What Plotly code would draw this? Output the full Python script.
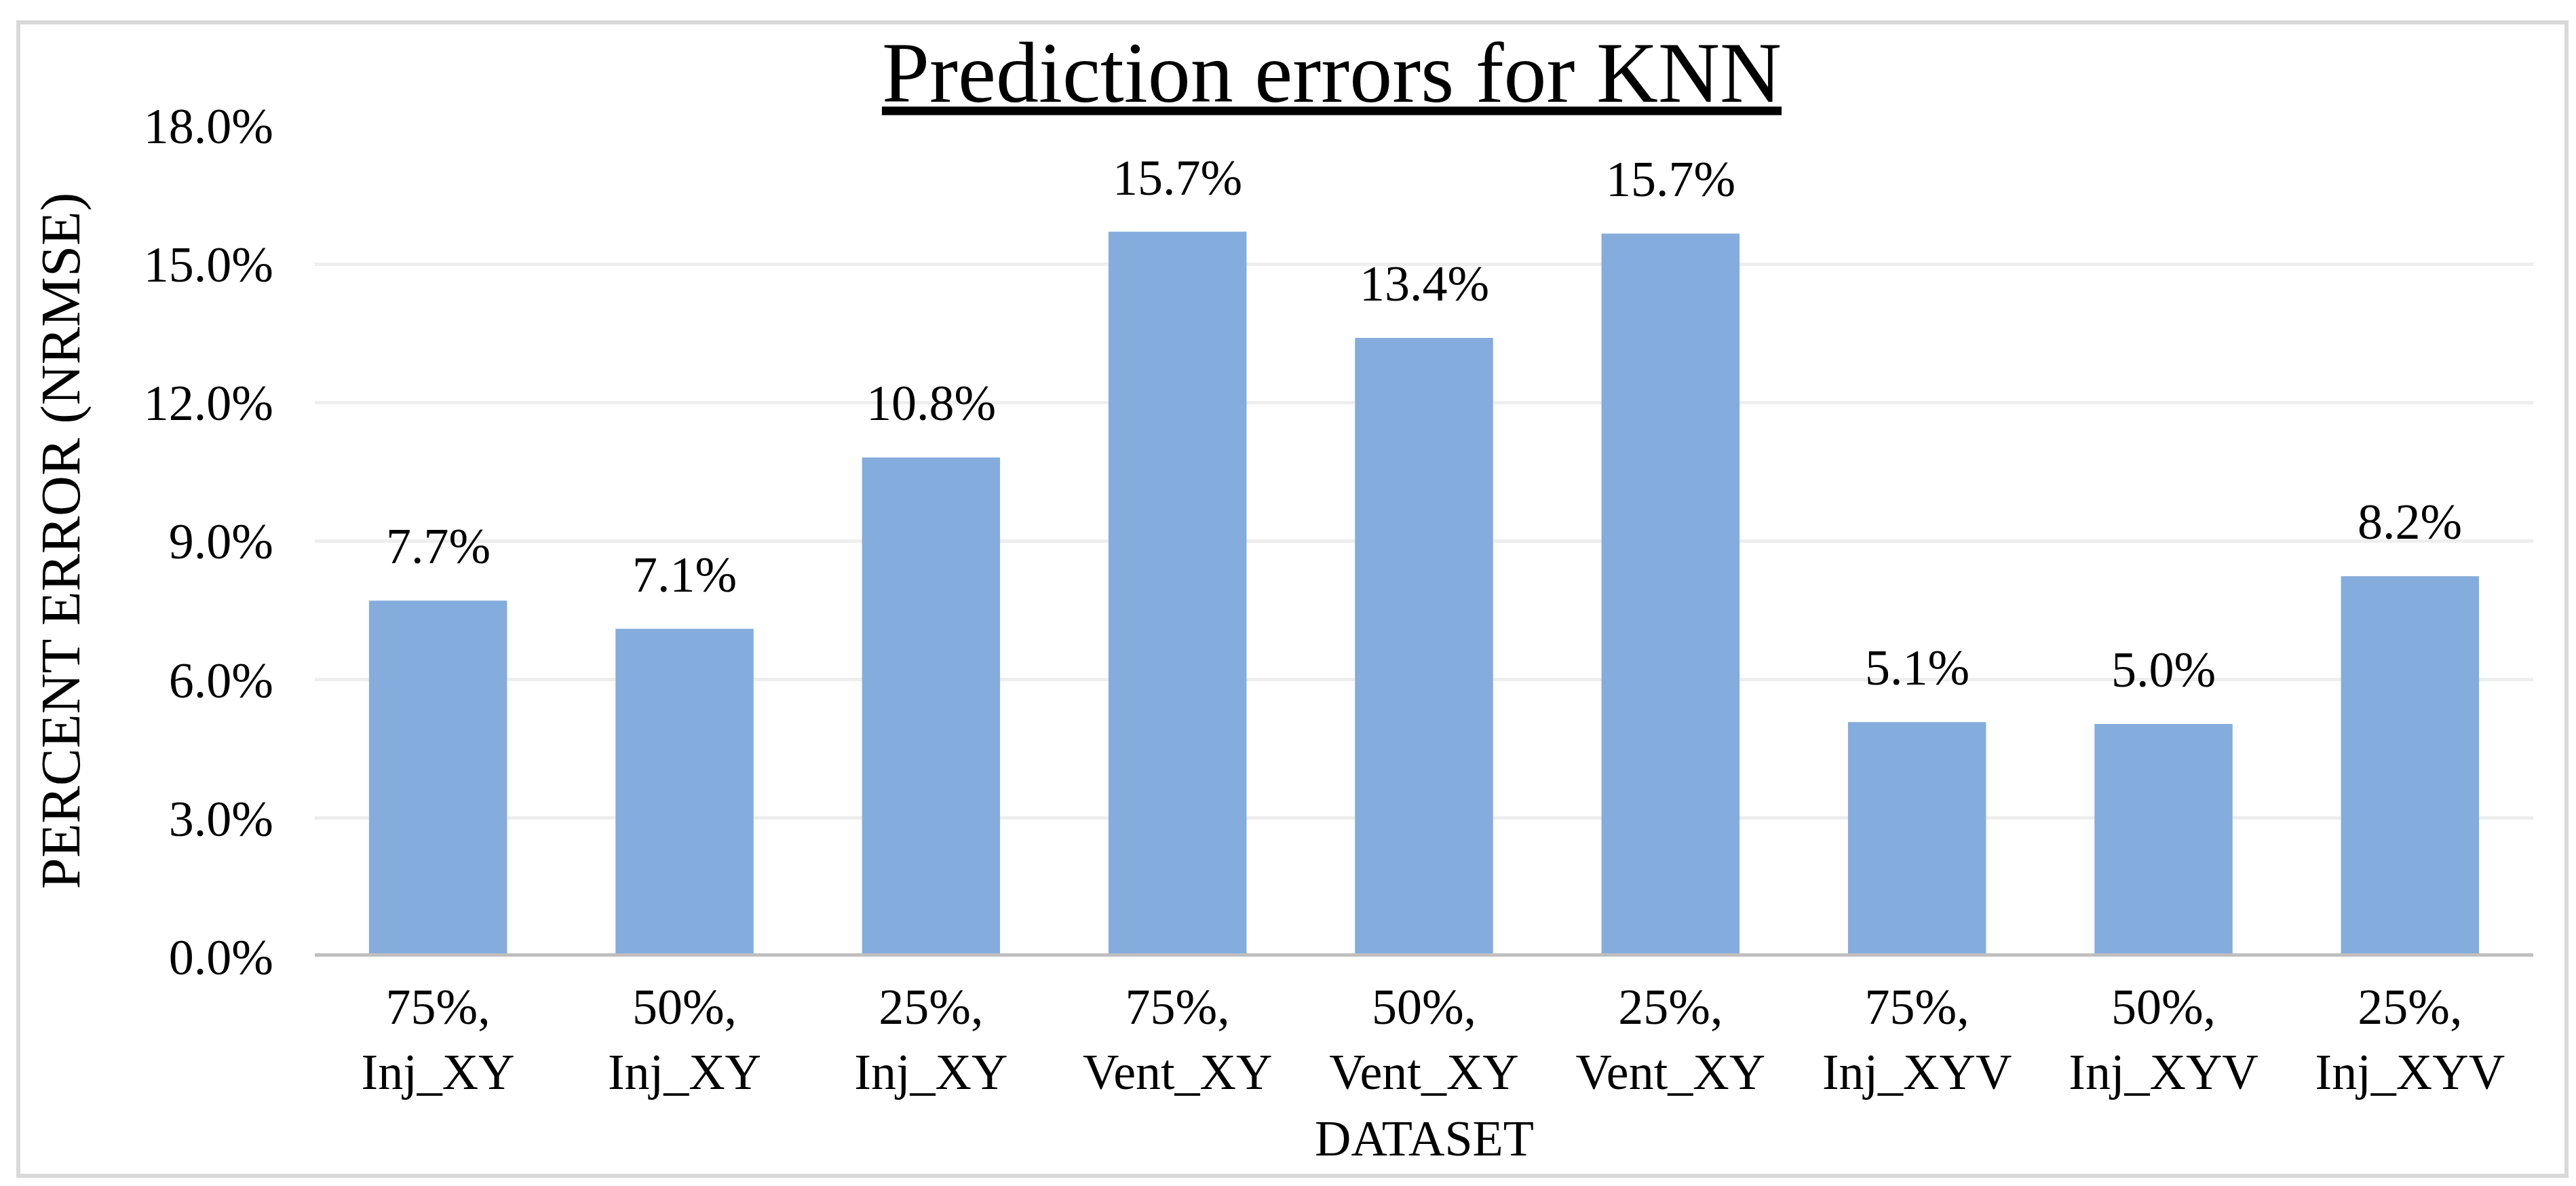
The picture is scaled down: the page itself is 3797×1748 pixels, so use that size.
import plotly.graph_objects as go

# ---- data ----
train_share = ["75%,", "50%,", "25%,", "75%,", "50%,", "25%,", "75%,", "50%,", "25%,"]
dataset = ["Inj_XY", "Inj_XY", "Inj_XY", "Vent_XY", "Vent_XY", "Vent_XY", "Inj_XYV", "Inj_XYV", "Inj_XYV"]
nrmse = [0.0771, 0.0710, 0.1081, 0.1570, 0.1340, 0.1566, 0.0508, 0.0504, 0.0824]
y_ticks = [0.0, 0.03, 0.06, 0.09, 0.12, 0.15, 0.18]

categories = [f"{a}<br>{b}" for a, b in zip(train_share, dataset)]

FONT = "Liberation Serif"
W, H = 3797, 1748
L, R, T, B = 456, 71, 177, 346
plot_w = W - L - R
plot_h = H - T - B


def px_x(p):
    return (p - L) / plot_w


def px_y(p):
    return (H - B - p) / plot_h


fig = go.Figure()
fig.add_trace(go.Bar(
    x=categories,
    y=nrmse,
    marker=dict(color="#84ACDC", line=dict(width=0)),
    hoverinfo="skip",
))

# data labels above bars
for c, v in zip(categories, nrmse):
    fig.add_annotation(
        x=c, y=v, xref="x", yref="y",
        text=f"{v * 100:.1f}%",
        showarrow=False, yanchor="middle", xanchor="center",
        yshift=80,
        font=dict(family=FONT, size=74, color="#000000"),
    )

# axis titles
fig.add_annotation(
    x=0.5, y=px_y(1670), xref="paper", yref="paper",
    text="DATASET", showarrow=False, xanchor="center", yanchor="middle",
    font=dict(family=FONT, size=74, color="#000000"),
)
fig.add_annotation(
    x=px_x(80), y=0.5, xref="paper", yref="paper",
    text="PERCENT ERROR (NRMSE)", showarrow=False, textangle=-90,
    xanchor="center", yanchor="middle",
    font=dict(family=FONT, size=83, color="#000000"),
)

# category axis line at zero
fig.add_shape(
    type="line", xref="paper", yref="y", x0=0, x1=1, y0=0, y1=0,
    line=dict(color="#BFBFBF", width=10), layer="above",
)

# chart border
fig.add_shape(
    type="rect", xref="paper", yref="paper",
    x0=px_x(19), x1=px_x(3775), y0=px_y(1725), y1=px_y(25),
    line=dict(color="#D9D9D9", width=6), fillcolor="rgba(0,0,0,0)", layer="below",
)

fig.update_layout(
    width=W, height=H,
    margin=dict(l=L, r=R, t=T, b=B, pad=0),
    paper_bgcolor="#FFFFFF",
    plot_bgcolor="#FFFFFF",
    showlegend=False,
    bargap=0.44,
    title=dict(
        text="<u>Prediction errors for KNN</u>",
        x=1955 / W, xanchor="center", xref="container",
        y=1 - 98 / H, yanchor="middle", yref="container",
        font=dict(family=FONT, size=126, color="#000000"),
    ),
    xaxis=dict(
        type="category",
        showgrid=False, zeroline=False, showline=False, ticks="",
        tickfont=dict(family=FONT, size=74, color="#000000"),
        ticklabelstandoff=24,
        range=[-0.5, len(categories) - 0.5],
    ),
    yaxis=dict(
        range=[0, 0.18],
        tickvals=y_ticks,
        tickformat=".1%",
        showgrid=True, gridcolor="#EEEEEE", gridwidth=5,
        zeroline=False, showline=False, ticks="",
        tickfont=dict(family=FONT, size=74, color="#000000"),
        ticklabelstandoff=60,
    ),
)

fig.write_html("out.html")
